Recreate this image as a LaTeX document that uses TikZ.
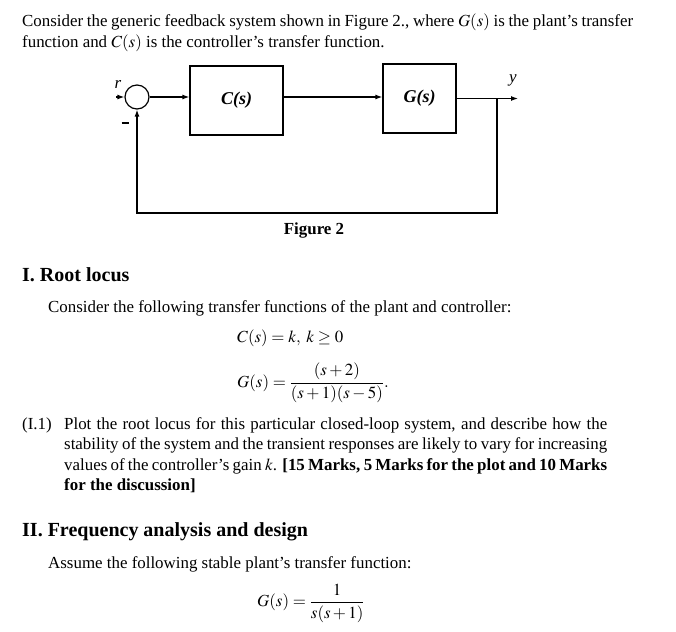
\documentclass[tikz,border=0pt]{standalone}
\usepackage{amsmath}
\usepackage{mathptmx}
\usepackage{fontspec}
\setmainfont{Liberation Serif}
\usetikzlibrary{arrows.meta}
\begin{document}
\begin{tikzpicture}[x=1pt,y=-1pt,
  txt/.style={anchor=base west,inner sep=0pt,font=\fontsize{16.9}{20.5}\selectfont},
  par/.style={txt,align=justify},
  head/.style={anchor=base west,inner sep=0pt,font=\fontsize{20}{23}\selectfont\bfseries},
  blk/.style={draw,line width=1.2pt,minimum width=93pt,minimum height=69pt,inner sep=0pt,font=\fontsize{18}{20}\selectfont\bfseries\itshape},
  wire/.style={line width=1.2pt},
  arr/.style={wire,-{Latex[length=7pt,width=5pt]}},
  lbl/.style={inner sep=0pt,font=\fontsize{17}{18}\selectfont\itshape}]
\useasboundingbox (0,0) rectangle (676,631);
\fill[white] (0,0) rectangle (676,631);
\node[par,text width=611pt] (p1) at (22,27) {Consider the generic feedback system shown in Figure 2., where $G(s)$ is the plant's transfer function and $C(s)$ is the controller's transfer function.};
% block diagram
\coordinate (in) at (116,97);
\node[draw,circle,line width=1.2pt,minimum size=24pt,inner sep=0pt] (sum) at (137,97) {};
\node[blk] (C) at (236.5,100.5) {C(s)};
\node[blk,minimum width=73pt,minimum height=69pt] (G) at (419.5,98.5) {G(s)};
\coordinate (br) at (497,98.5);
\coordinate (out) at (518,98.5);
\coordinate (bl) at (497,213);
\coordinate (bs) at (137,213);
\draw[arr] (in) -- (sum);
\draw[arr] (sum) -- (C.west|-sum);
\draw[arr] (C.east|-sum) -- (G.west|-sum);
\draw[wire] (G.east|-br) -- (br);
\draw[arr] (br) -- (out);
\draw[arr] (br) -- (bl) -- (bs) -- (sum);
\node[lbl] (r) at (118,84) {r};
\node[lbl] (y) at (513,80) {y};
\node[inner sep=0pt] (minus) at (125,123) {\rule{7pt}{1.6pt}};
\node[anchor=base,inner sep=0pt,font=\fontsize{16.9}{18}\selectfont\bfseries] (fig) at (314,234) {Figure 2};
% section I
\node[head] (h1) at (22,281) {I. Root locus};
\node[txt] (t1) at (48,312) {Consider the following transfer functions of the plant and controller:};
\node[txt] (e1) at (237,342) {$C(s)=k,\; k\geq 0$};
\node[txt,anchor=west] (e2) at (237,383) {$G(s)=\dfrac{(s+2)}{(s+1)(s-5)}.$};
\node[txt] (i1) at (22,429) {(I.1)};
\node[par,text width=543pt] (p2) at (64,429) {Plot the root locus for this particular closed-loop system, and describe how the stability of the system and the transient responses are likely to vary for increasing values of the controller's gain $k$. \textbf{[15 Marks, 5 Marks for the plot and 10 Marks for the discussion]}};
% section II
\node[head] (h2) at (22,536) {II. Frequency analysis and design};
\node[txt] (t2) at (48,568) {Assume the following stable plant's transfer function:};
\node[txt,anchor=west] (e3) at (257,603) {$G(s)=\dfrac{1}{s(s+1)}$};
\end{tikzpicture}
\end{document}
